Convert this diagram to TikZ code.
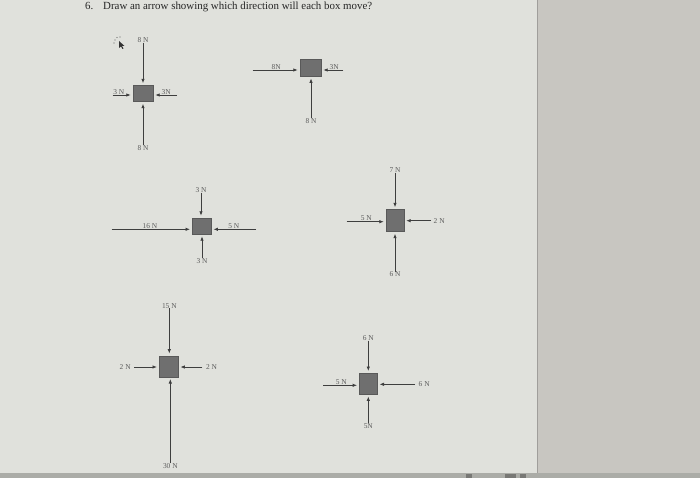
\documentclass[tikz,border=0pt]{standalone}
\usepackage{fontspec}
\setmainfont{Liberation Serif}
\usetikzlibrary{arrows.meta,positioning}
\definecolor{pagebg}{HTML}{E0E1DC}
\definecolor{panelbg}{HTML}{C8C6C1}
\definecolor{barbg}{HTML}{ABACA7}
\definecolor{boxgray}{HTML}{6F6F6F}
\definecolor{inkgray}{HTML}{3E3E3E}
\tikzset{
  x=1pt, y=-1pt,
  massbox/.style = {draw=boxgray!80!black, fill=boxgray, inner sep=0pt, line width=0.4pt},
  force/.style = {draw=inkgray, line width=0.8pt, -{Latex[length=4.5pt,width=3.5pt]}, shorten >=2pt},
  flabel/.style = {inner sep=0.5pt, text=inkgray!85, font=\fontsize{7.4}{8}\selectfont},
  title/.style = {inner sep=0pt, text=black!85, font=\fontsize{10.9}{13}\selectfont}
}
\begin{document}
\begin{tikzpicture}
\useasboundingbox (0,0) rectangle (700,478);
\fill[pagebg] (0,0) rectangle (537,478);
\fill[panelbg] (537,0) rectangle (700,478);
\draw[panelbg!80!black, line width=0.6pt] (537,0) -- (537,473);
\fill[barbg] (0,473) rectangle (700,478);
\fill[barbg!70!black] (466,474) rectangle (472,478);
\fill[barbg!70!black] (505,474) rectangle (516,478);
\fill[barbg!70!black] (520,474) rectangle (526,478);

\node[title, anchor=base west] (q6) at (85,10) {6.\hspace{0.9em}Draw an arrow showing which direction will each box move?};

% busy cursor
\fill[black!80] (119,41) -- (119,48) -- (121,46.5) -- (122.5,49) -- (123.5,48.5) -- (122,46) -- (124.5,46) -- cycle;
\foreach \dx/\dy in {-4/-1,-2/-3.5,-5/2,1/-4} \fill[black!60] (119+\dx,41+\dy) circle (0.7);

% box 1
\node[massbox, minimum width=20, minimum height=16] (b1) at (143,93.5) {};
\coordinate (t1) at (143,42.7);
\coordinate (l1) at (112.7,95);
\coordinate (r1) at (177,95);
\coordinate (u1) at (143,145);
\draw[force] (t1) -- (t1 |- b1.north);
\draw[force] (l1) -- (l1 -| b1.west) node[flabel, midway, above, xshift=-4] (l1n) {3 N};
\draw[force] (r1) -- (r1 -| b1.east) node[flabel, midway, above, xshift=1] (r1n) {3N};
\draw[force] (u1) -- (u1 |- b1.south);
\node[flabel, above=0.5 of t1] (t1n) {8 N};
\node[flabel, below=0.5 of u1] (u1n) {8 N};

% box 2
\node[massbox, minimum width=21, minimum height=17] (b2) at (310.5,67.7) {};
\coordinate (l2) at (252.7,70);
\coordinate (r2) at (343.3,70);
\coordinate (u2) at (311,118.3);
\draw[force] (l2) -- (l2 -| b2.west) node[flabel, midway, above] (l2n) {8N};
\draw[force] (r2) -- (r2 -| b2.east) node[flabel, midway, above, xshift=2] (r2n) {3N};
\draw[force] (u2) -- (u2 |- b2.south);
\node[flabel, below=0.5 of u2] (u2n) {8 N};

% box 3
\node[massbox, minimum width=19, minimum height=16] (b3) at (201.7,226) {};
\coordinate (t3) at (201,192.7);
\coordinate (l3) at (111.7,229.3);
\coordinate (r3) at (256,229.3);
\coordinate (u3) at (202,258.3);
\draw[force] (t3) -- (t3 |- b3.north);
\draw[force] (l3) -- (l3 -| b3.west) node[flabel, midway, above, xshift=-2] (l3n) {16 N};
\draw[force] (r3) -- (r3 -| b3.east) node[flabel, midway, above] (r3n) {5 N};
\draw[force] (u3) -- (u3 |- b3.south);
\node[flabel, above=0.5 of t3] (t3n) {3 N};
\node[flabel, below=0.5 of u3] (u3n) {3 N};

% box 4
\node[massbox, minimum width=18, minimum height=22] (b4) at (395,220.5) {};
\coordinate (t4) at (395,172.7);
\coordinate (l4) at (346.7,221.7);
\coordinate (r4) at (431,220.7);
\coordinate (u4) at (395,271.7);
\draw[force] (t4) -- (t4 |- b4.north);
\draw[force] (l4) -- (l4 -| b4.west) node[flabel, midway, above] (l4n) {5 N};
\draw[force] (r4) -- (r4 -| b4.east);
\draw[force] (u4) -- (u4 |- b4.south);
\node[flabel, above=0.5 of t4] (t4n) {7 N};
\node[flabel, right=2 of r4] (r4n) {2 N};
\node[flabel, below=0.5 of u4] (u4n) {6 N};

% box 5
\node[massbox, minimum width=19, minimum height=21] (b5) at (168.7,366.3) {};
\coordinate (t5) at (169.3,308.3);
\coordinate (l5) at (134.3,367);
\coordinate (r5) at (202.3,367);
\coordinate (u5) at (170.3,463.3);
\draw[force] (t5) -- (t5 |- b5.north);
\draw[force] (l5) -- (l5 -| b5.west);
\draw[force] (r5) -- (r5 -| b5.east);
\draw[force] (u5) -- (u5 |- b5.south);
\node[flabel, above=0.5 of t5] (t5n) {15 N};
\node[flabel, left=3 of l5] (l5n) {2 N};
\node[flabel, right=3 of r5] (r5n) {2 N};
\node[flabel, below=0.5 of u5] (u5n) {30 N};

% box 6
\node[massbox, minimum width=18, minimum height=21] (b6) at (368.3,383.7) {};
\coordinate (t6) at (368.3,340.7);
\coordinate (l6) at (323.3,385.3);
\coordinate (r6) at (415,384.3);
\coordinate (u6) at (368.3,423.3);
\draw[force] (t6) -- (t6 |- b6.north);
\draw[force] (l6) -- (l6 -| b6.west) node[flabel, midway, above] (l6n) {5 N};
\draw[force] (r6) -- (r6 -| b6.east);
\draw[force] (u6) -- (u6 |- b6.south);
\node[flabel, above=0.5 of t6] (t6n) {6 N};
\node[flabel, right=3 of r6] (r6n) {6 N};
\node[flabel, below=0.5 of u6] (u6n) {5N};
\end{tikzpicture}
\end{document}
